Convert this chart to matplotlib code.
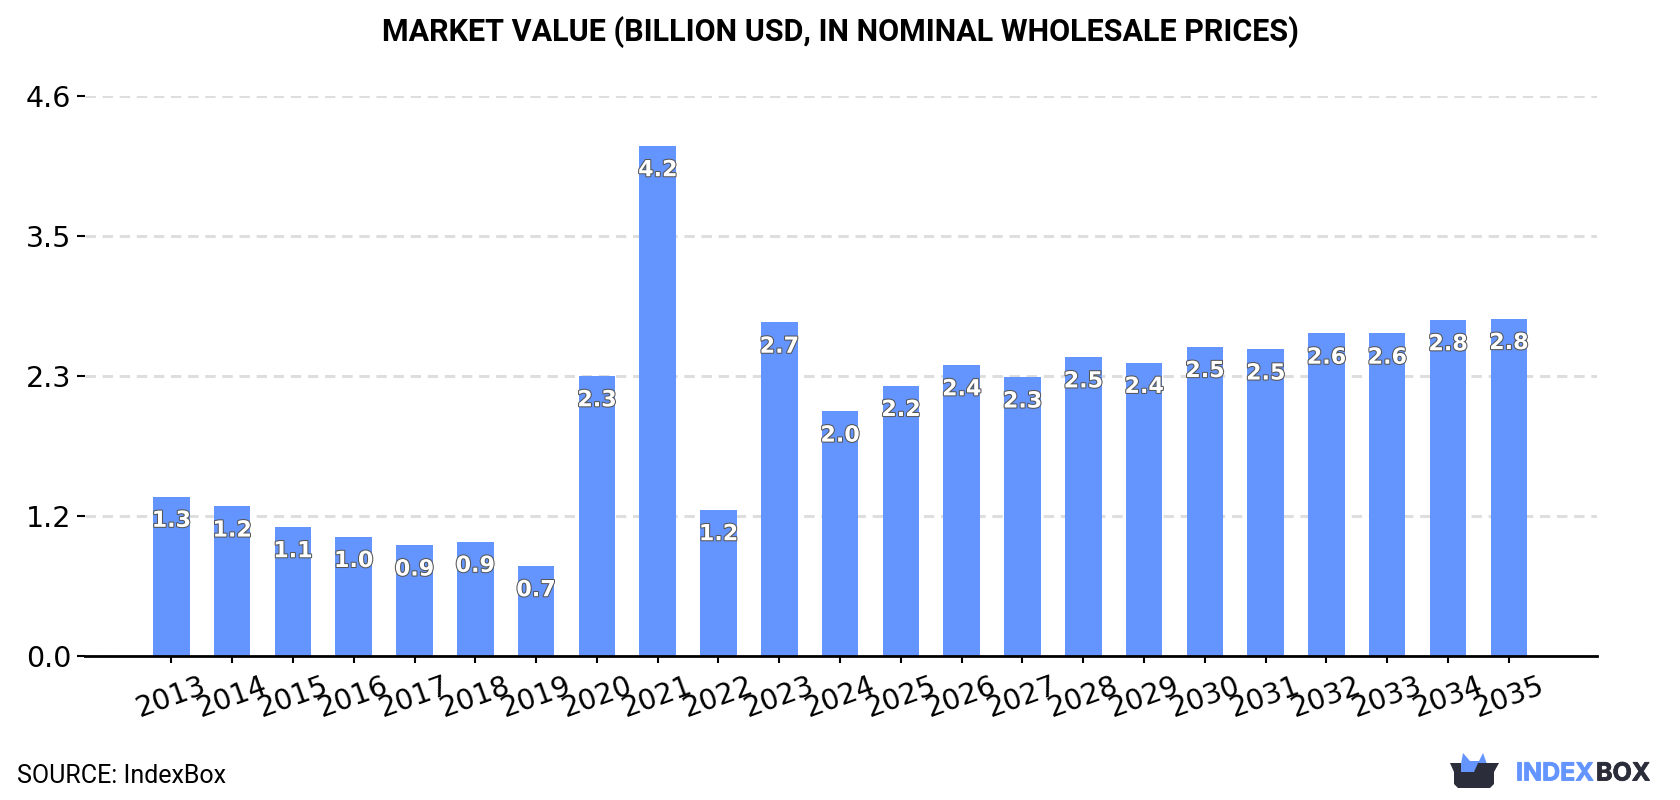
import matplotlib
matplotlib.use("Agg")
import matplotlib.pyplot as plt
import matplotlib.patheffects as pe
from matplotlib.patches import Polygon

years = [2013, 2014, 2015, 2016, 2017, 2018, 2019, 2020, 2021, 2022, 2023, 2024,
         2025, 2026, 2027, 2028, 2029, 2030, 2031, 2032, 2033, 2034, 2035]
values = [1.31, 1.23, 1.06, 0.98, 0.91, 0.94, 0.74, 2.30, 4.19, 1.20, 2.74, 2.01,
          2.22, 2.39, 2.29, 2.455, 2.41, 2.54, 2.52, 2.65, 2.65, 2.76, 2.77]
y_ticks = [0.0, 1.15, 2.3, 3.45, 4.6]
y_tick_labels = ["0.0", "1.2", "2.3", "3.5", "4.6"]

BLUE = "#6495ff"
DARK = "#2b2d3a"
W, H = 1680, 800

fig = plt.figure(figsize=(W / 100, H / 100), dpi=100)
ax = fig.add_axes([85 / W, 1 - 656 / H, (1597 - 85) / W, (656 - 96) / H])

positions = list(range(len(years)))
ax.bar(positions, values, width=0.6, color=BLUE, zorder=3)
ax.set_xlim(-1.42, 23.45)
ax.set_ylim(0, 4.6)

ax.set_yticks(y_ticks)
ax.set_yticklabels(y_tick_labels, fontsize=20.5)
ax.set_xticks(positions)
ax.set_xticklabels(years, fontsize=20.5, rotation=20)
ax.tick_params(axis="y", length=6, width=1.5, pad=4)
ax.tick_params(axis="x", length=5, width=1.5, pad=6)

ax.grid(axis="y", color="#dedede", linestyle=(0, (3.4, 2.2)), linewidth=2.2, zorder=0)
ax.set_axisbelow(True)
for side in ["top", "right", "left"]:
    ax.spines[side].set_visible(False)
ax.spines["bottom"].set_linewidth(2)
ax.spines["bottom"].set_zorder(5)

# value labels inside the top of each bar
for x, v in zip(positions, values):
    ax.annotate(f"{v:.1f}", (x, v), xytext=(0, -17.5), textcoords="offset points",
                ha="center", va="center", fontsize=16, fontweight="bold",
                color="white", zorder=6,
                path_effects=[pe.withStroke(linewidth=1.5, foreground="#555555")])

fig.text(840 / W, 1 - 32 / H, "MARKET VALUE (BILLION USD, IN NOMINAL WHOLESALE PRICES)",
         family="Roboto", fontweight="bold", fontsize=22, ha="center", va="center")
fig.text(17 / W, 1 - 776 / H, "SOURCE: IndexBox", family="Roboto", fontsize=18,
         ha="left", va="center")

# logo, drawn on a pixel-sized overlay
logo = fig.add_axes([0, 0, 1, 1], facecolor="none")
logo.set_xlim(0, W)
logo.set_ylim(H, 0)
logo.axis("off")
logo.add_patch(Polygon([(1461, 764), (1463, 753), (1470, 761), (1479, 761), (1483, 753),
                        (1487, 764), (1483, 773), (1461, 773)], closed=True, color=BLUE, lw=0))
logo.add_patch(Polygon([(1450, 763), (1461, 763), (1461, 772), (1474, 772), (1478, 763),
                        (1499, 763), (1494, 772), (1494, 784), (1490, 788), (1458, 788),
                        (1454, 784), (1454, 772)], closed=True, color=DARK, lw=0))
logo.text(1516, 774, "INDEX", family="Inter", fontweight="bold", fontsize=18, color=BLUE,
          ha="left", va="center",
          path_effects=[pe.withStroke(linewidth=0.6, foreground=BLUE)])
logo.text(1596, 774, "BOX", family="Inter", fontweight="bold", fontsize=18, color=DARK,
          ha="left", va="center",
          path_effects=[pe.withStroke(linewidth=0.6, foreground=DARK)])

fig.savefig("out.png", dpi=100)
plt.close(fig)
